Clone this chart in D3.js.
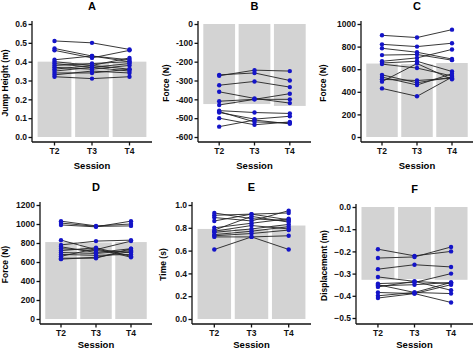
<!DOCTYPE html>
<html lang="en">
<head>
<meta charset="UTF-8">
<title>Jump metrics by session</title>
<script src="https://d3js.org/d3.v7.min.js"></script>
<style>
  body { margin: 0; background: #fff; }
  svg { display: block; font-family: "Liberation Sans", Arial, sans-serif; font-weight: bold; }
  .tick text { font-size: 8.5px; font-weight: bold; fill: #111; }
  .tick line, .axis-line { stroke: #111; stroke-width: 1.3px; }
  .bar { fill: #d3d3d3; }
  .subj { fill: none; stroke: #222; stroke-width: 0.9px; }
  .dot { fill: #1414c8; }
</style>
</head>
<body>
<svg id="chart" width="474" height="351"></svg>
<script>
const sessions = ["T2", "T3", "T4"];

// bar heights (session means) and per-subject values [T2, T3, T4]
const jumpMean = [0.40, 0.395, 0.40];
const jumpSubjects = [
  [0.51, 0.50, 0.465], [0.47, 0.43, 0.40], [0.46, 0.42, 0.46], [0.41, 0.43, 0.41],
  [0.40, 0.38, 0.42], [0.39, 0.37, 0.39], [0.38, 0.39, 0.40], [0.37, 0.36, 0.38],
  [0.36, 0.38, 0.36], [0.35, 0.37, 0.35], [0.34, 0.34, 0.36], [0.33, 0.35, 0.34],
  [0.32, 0.31, 0.32]
];

const forceBMean = [-425, -425, -435];
const forceBSubjects = [
  [-275, -245, -250], [-270, -260, -300], [-325, -305, -335], [-360, -395, -420],
  [-410, -400, -370], [-430, -400, -400], [-460, -470, -475], [-470, -505, -490],
  [-500, -535, -520], [-545, -510, -530], [-465, -520, -525]
];

const forceCMean = [650, 645, 655];
const forceCSubjects = [
  [900, 880, 950], [820, 800, 830], [785, 750, 690], [725, 730, 680],
  [670, 700, 775], [655, 670, 580], [645, 610, 540], [550, 480, 530],
  [530, 460, 560], [510, 500, 520], [490, 650, 510], [430, 360, 530]
];

const forceDMean = [810, 805, 810];
const forceDSubjects = [
  [1030, 980, 1000], [990, 970, 1030], [1010, 975, 980], [830, 730, 820],
  [780, 820, 830], [760, 700, 740], [740, 720, 700], [720, 750, 660],
  [700, 690, 720], [680, 670, 680], [660, 740, 650], [630, 650, 710],
  [640, 640, 740]
];

const timeMean = [0.79, 0.79, 0.82];
const timeSubjects = [
  [0.93, 0.88, 0.86], [0.91, 0.92, 0.87], [0.89, 0.86, 0.95], [0.86, 0.92, 0.93],
  [0.80, 0.84, 0.88], [0.78, 0.90, 0.85], [0.77, 0.82, 0.79], [0.76, 0.79, 0.83],
  [0.74, 0.77, 0.81], [0.73, 0.75, 0.78], [0.72, 0.72, 0.73], [0.61, 0.72, 0.61]
];

const dispMean = [-0.328, -0.325, -0.328];
const dispSubjects = [
  [-0.19, -0.22, -0.20], [-0.23, -0.225, -0.18], [-0.28, -0.26, -0.27], [-0.315, -0.335, -0.345],
  [-0.345, -0.34, -0.30], [-0.355, -0.35, -0.34], [-0.36, -0.335, -0.375], [-0.385, -0.39, -0.35],
  [-0.40, -0.385, -0.39], [-0.41, -0.39, -0.43], [-0.35, -0.385, -0.34]
];

const ticksA = [0, 0.1, 0.2, 0.3, 0.4, 0.5, 0.6];
const ticksB = [0, -100, -200, -300, -400, -500, -600];
const ticksC = [0, 200, 400, 600, 800, 1000];
const ticksD = [0, 200, 400, 600, 800, 1000, 1200];
const ticksE = [0, 0.2, 0.4, 0.6, 0.8, 1.0];
const ticksF = [0, -0.1, -0.2, -0.3, -0.4, -0.5];

const panels = [
  { title: "A", ylabel: "Jump Height (m)", mean: jumpMean, subj: jumpSubjects, ticks: ticksA, fmt: d3.format(".1f"),
    left: 32, right: 152, top: 24, bottom: 137, base: 142, labelX: 6 },
  { title: "B", ylabel: "Force (N)", mean: forceBMean, subj: forceBSubjects, ticks: ticksB, fmt: d => d,
    left: 198, right: 311, top: 24, bottom: 137, base: 142, labelX: 167 },
  { title: "C", ylabel: "Force (N)", mean: forceCMean, subj: forceCSubjects, ticks: ticksC, fmt: d => d,
    left: 361, right: 473, top: 24, bottom: 137, base: 142, labelX: 324 },
  { title: "D", ylabel: "Force (N)", mean: forceDMean, subj: forceDSubjects, ticks: ticksD, fmt: d => d,
    left: 40, right: 152, top: 205, bottom: 319, base: 324, labelX: 5.5 },
  { title: "E", ylabel: "Time (s)", mean: timeMean, subj: timeSubjects, ticks: ticksE, fmt: d3.format(".1f"),
    left: 192, right: 311, top: 205, bottom: 319, base: 324, labelX: 164 },
  { title: "F", ylabel: "Displacement (m)", mean: dispMean, subj: dispSubjects, ticks: ticksF, fmt: d3.format(".1f"),
    left: 356, right: 473, top: 207, bottom: 318, base: 324, labelX: 325 }
];

const svg = d3.select("#chart");
const H = +svg.attr("height");

panels.forEach(p => {
  const g = svg.append("g");
  const lo = d3.min(p.ticks), hi = d3.max(p.ticks);
  const y = d3.scaleLinear().domain([lo, hi]).range([p.bottom, p.top]);
  const x = d3.scaleBand().domain(sessions).range([p.left, p.right])
    .paddingInner(0.1).paddingOuter(0.15);

  // bars from zero to the session mean
  g.selectAll(".bar").data(p.mean).enter().append("rect")
    .attr("class", "bar")
    .attr("x", (d, i) => x(sessions[i]))
    .attr("width", x.bandwidth())
    .attr("y", d => Math.min(y(0), y(d)))
    .attr("height", d => Math.abs(y(d) - y(0)));

  // subject lines + dots
  const cx = i => x(sessions[i]) + x.bandwidth() / 2;
  const line = d3.line().x((d, i) => cx(i)).y(d => y(d));
  g.selectAll(".subj").data(p.subj).enter().append("path")
    .attr("class", "subj").attr("d", line);
  p.subj.forEach(s => {
    g.selectAll(null).data(s).enter().append("circle")
      .attr("class", "dot")
      .attr("cx", (d, i) => cx(i))
      .attr("cy", d => y(d))
      .attr("r", 2.2);
  });

  // y axis
  const ya = g.append("g").attr("transform", `translate(${p.left},0)`)
    .call(d3.axisLeft(y).tickValues(p.ticks).tickFormat(p.fmt).tickSize(3.5).tickPadding(1.5));
  ya.select(".domain").remove();
  g.append("line").attr("class", "axis-line")
    .attr("x1", p.left).attr("x2", p.left)
    .attr("y1", p.top - 3).attr("y2", p.base);

  // x axis
  g.append("line").attr("class", "axis-line")
    .attr("x1", p.left).attr("x2", p.right)
    .attr("y1", p.base).attr("y2", p.base);
  const xa = g.append("g").attr("transform", `translate(0,${p.base})`)
    .call(d3.axisBottom(x).tickSize(3.5).tickPadding(2));
  xa.select(".domain").remove();

  const mid = (p.left + p.right) / 2;
  g.append("text").attr("x", mid).attr("y", Math.min(p.base + 24, H - 6))
    .attr("text-anchor", "middle").attr("dominant-baseline", "middle")
    .style("font-size", "9.5px").text("Session");
  g.append("text").attr("x", mid).attr("y", p.top - 17)
    .attr("text-anchor", "middle").attr("dominant-baseline", "middle")
    .style("font-size", "11px").text(p.title);
  g.append("text")
    .attr("transform", `translate(${p.labelX},${(p.top + p.base) / 2}) rotate(-90)`)
    .attr("text-anchor", "middle").attr("dominant-baseline", "middle")
    .style("font-size", "8.5px").text(p.ylabel);
});
</script>
</body>
</html>
